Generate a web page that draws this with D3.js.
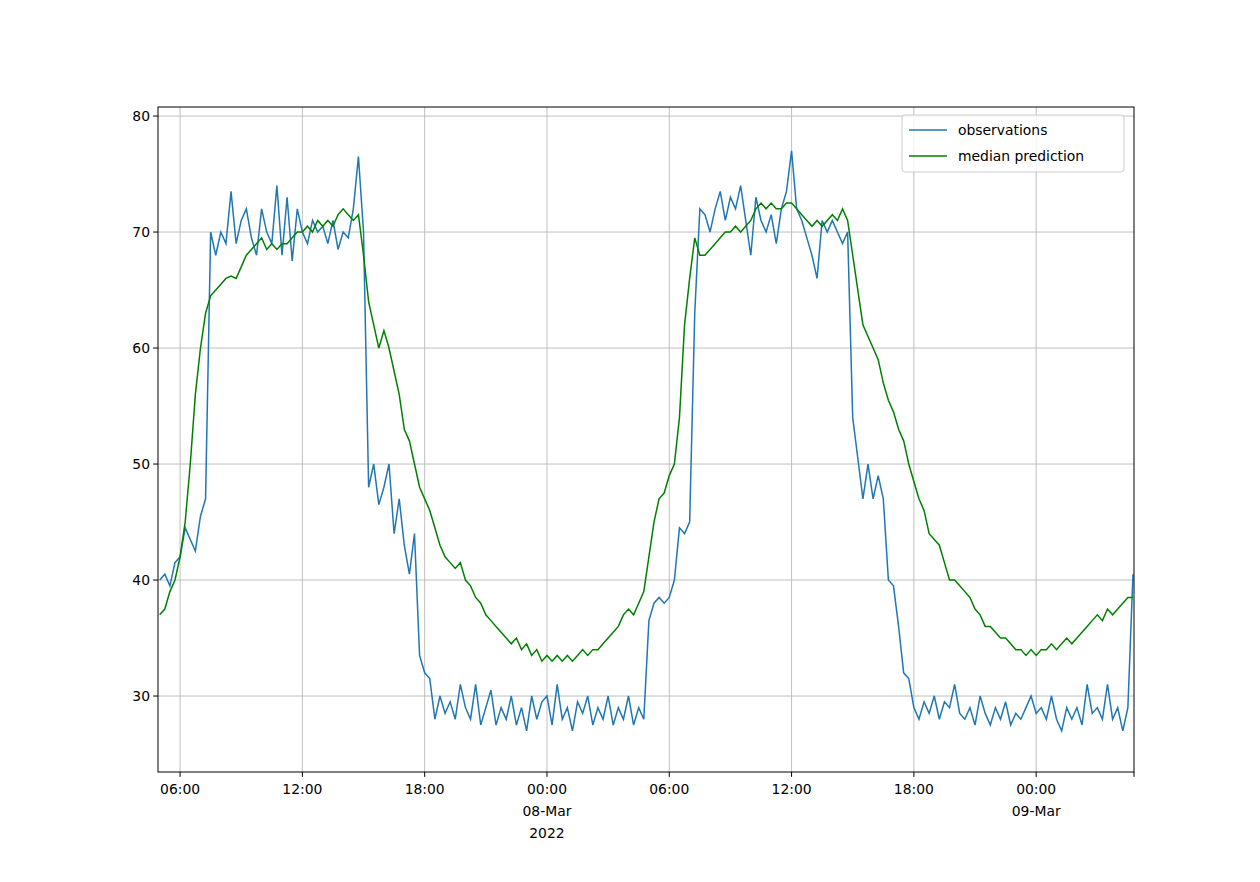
<!DOCTYPE html>
<html>
<head>
<meta charset="utf-8">
<script src="https://cdn.jsdelivr.net/npm/d3@7"></script>
<style>
  body { margin: 0; background: #fff; }
  text { font-family: "DejaVu Sans", sans-serif; }
</style>
</head>
<body>
<svg id="chart" width="1260" height="882"></svg>
<script>
// 15-minute samples starting 2022-03-07 05:00
const startTime = Date.UTC(2022, 2, 7, 5, 0)
const stepMinutes = 15

const observations = [
  40, 40.5, 39.5, 41.5, 42, 44.5, 43.5, 42.5, 45.5, 47, 70, 68, 70, 69, 73.5, 69,
  71, 72, 69.5, 68, 72, 70, 69, 74, 68, 73, 67.5, 72, 70, 69, 71, 70,
  70.5, 69, 71, 68.5, 70, 69.5, 72, 76.5, 70, 48, 50, 46.5, 48, 50, 44, 47,
  43, 40.5, 44, 33.5, 32, 31.5, 28, 30, 28.5, 29.5, 28, 31, 29, 28, 31, 27.5,
  29, 30.5, 27.5, 29, 28, 30, 27.5, 29, 27, 30, 28, 29.5, 30, 27.5, 31, 28,
  29, 27, 29.5, 28.5, 30, 27.5, 29, 28, 30, 27.5, 29, 28, 30, 27.5, 29, 28,
  36.5, 38, 38.5, 38, 38.5, 40, 44.5, 44, 45, 63, 72, 71.5, 70, 72, 73.5, 71,
  73, 72, 74, 71, 68, 73, 71, 70, 71.5, 69, 72, 73.5, 77, 72, 71, 69.5,
  68, 66, 71, 70, 71, 70, 69, 70, 54, 50.5, 47, 50, 47, 49, 47, 40,
  39.5, 36, 32, 31.5, 29, 28, 29.5, 28.5, 30, 28, 29.5, 29, 31, 28.5, 28, 29,
  27.5, 30, 28.5, 27.5, 29, 28, 29.5, 27.5, 28.5, 28, 29, 30, 28.5, 29, 28, 30,
  28, 27, 29, 28, 29, 27.5, 31, 28.5, 29, 28, 31, 28, 29, 27, 29, 40.5
]

const medianPrediction = [
  37, 37.5, 39, 40, 42, 45, 50, 56, 60, 63, 64.5, 65, 65.5, 66, 66.2, 66,
  67, 68, 68.5, 69, 69.5, 68.5, 69, 68.5, 69, 69, 69.5, 70, 70, 70.5, 70, 71,
  70.5, 71, 70.5, 71.5, 72, 71.5, 71, 71.5, 68, 64, 62, 60, 61.5, 60, 58, 56,
  53, 52, 50, 48, 47, 46, 44.5, 43, 42, 41.5, 41, 41.5, 40, 39.5, 38.5, 38,
  37, 36.5, 36, 35.5, 35, 34.5, 35, 34, 34.5, 33.5, 34, 33, 33.5, 33, 33.5, 33,
  33.5, 33, 33.5, 34, 33.5, 34, 34, 34.5, 35, 35.5, 36, 37, 37.5, 37, 38, 39,
  42, 45, 47, 47.5, 49, 50, 54, 62, 66, 69.5, 68, 68, 68.5, 69, 69.5, 70,
  70, 70.5, 70, 70.5, 71, 72, 72.5, 72, 72.5, 72, 72, 72.5, 72.5, 72, 71.5, 71,
  70.5, 71, 70.5, 71, 71.5, 71, 72, 71, 68, 65, 62, 61, 60, 59, 57, 55.5,
  54.5, 53, 52, 50, 48.5, 47, 46, 44, 43.5, 43, 41.5, 40, 40, 39.5, 39, 38.5,
  37.5, 37, 36, 36, 35.5, 35, 35, 34.5, 34, 34, 33.5, 34, 33.5, 34, 34, 34.5,
  34, 34.5, 35, 34.5, 35, 35.5, 36, 36.5, 37, 36.5, 37.5, 37, 37.5, 38, 38.5, 38.5
]

const yTicks = [30, 40, 50, 60, 70, 80]
const seriesNames = ['observations', 'median prediction']
const seriesColors = ['#1f77b4', 'green']

const svg = d3.select('#chart')
const mLeft = 158, mRight = 1134, mTop = 107, mBottom = 772

const x = d3.scaleUtc()
  .domain([new Date(Date.UTC(2022, 2, 7, 4, 55)), new Date(Date.UTC(2022, 2, 9, 4, 48))])
  .range([mLeft, mRight])
const y = d3.scaleLinear().domain([23.45, 80.78]).range([mBottom, mTop])

const timeAt = i => new Date(startTime + i * stepMinutes * 60000)
const xTicks = d3.range(0, 8).map(k => new Date(Date.UTC(2022, 2, 7, 6 + k * 6)))

// grid
const grid = svg.append('g').attr('stroke', '#b0b0b0').attr('stroke-width', 0.8)
grid.selectAll('.gx').data(xTicks).join('line').attr('class', 'gx')
  .attr('x1', d => x(d)).attr('x2', d => x(d)).attr('y1', mTop).attr('y2', mBottom)
grid.selectAll('.gy').data(yTicks).join('line').attr('class', 'gy')
  .attr('x1', mLeft).attr('x2', mRight).attr('y1', d => y(d)).attr('y2', d => y(d))

// lines
const line = data => d3.line().x((d, i) => x(timeAt(i))).y(d => y(d))(data)
;[observations, medianPrediction].forEach((data, k) => {
  svg.append('path').attr('d', line(data)).attr('fill', 'none')
    .attr('stroke', seriesColors[k]).attr('stroke-width', 1.5)
})

// frame
svg.append('rect').attr('x', mLeft).attr('y', mTop).attr('width', mRight - mLeft).attr('height', mBottom - mTop)
  .attr('fill', 'none').attr('stroke', '#000').attr('stroke-width', 1)

// y axis
const ya = svg.append('g').attr('font-size', 13.9)
ya.selectAll('line').data(yTicks).join('line')
  .attr('x1', mLeft - 4.9).attr('x2', mLeft).attr('y1', d => y(d)).attr('y2', d => y(d)).attr('stroke', '#000')
ya.selectAll('text').data(yTicks).join('text')
  .attr('x', mLeft - 8).attr('y', d => y(d)).attr('dy', '0.35em').attr('text-anchor', 'end').text(d => d)

// x axis
const fmtTick = d => {
  const lines = [d3.utcFormat('%H:%M')(d)]
  if (d.getUTCHours() === 0) {
    lines.push(d3.utcFormat('%d-%b')(d))
    if (d.getUTCDate() === 8) lines.push('2022')
  }
  return lines
}
const xa = svg.append('g').attr('font-size', 13.9)
xa.selectAll('line').data(xTicks.concat([x.domain()[1]])).join('line')
  .attr('x1', d => x(d)).attr('x2', d => x(d)).attr('y1', mBottom).attr('y2', mBottom + 4.9).attr('stroke', '#000')
xTicks.forEach(d => {
  const t = xa.append('text').attr('text-anchor', 'middle')
  fmtTick(d).forEach((s, i) => {
    t.append('tspan').attr('x', x(d)).attr('y', mBottom + 22 + i * 22).text(s)
  })
})

// legend
const lg = svg.append('g')
lg.append('rect').attr('x', 902).attr('y', 115).attr('width', 222).attr('height', 57).attr('rx', 3)
  .attr('fill', '#fff').attr('fill-opacity', 0.8).attr('stroke', '#ccc')
seriesNames.forEach((name, i) => {
  const yy = 130 + i * 26
  lg.append('line').attr('x1', 909).attr('x2', 947).attr('y1', yy).attr('y2', yy)
    .attr('stroke', seriesColors[i]).attr('stroke-width', 1.5)
  lg.append('text').attr('x', 958).attr('y', yy).attr('dy', '0.35em').attr('font-size', 13.9).text(name)
})
</script>
</body>
</html>
